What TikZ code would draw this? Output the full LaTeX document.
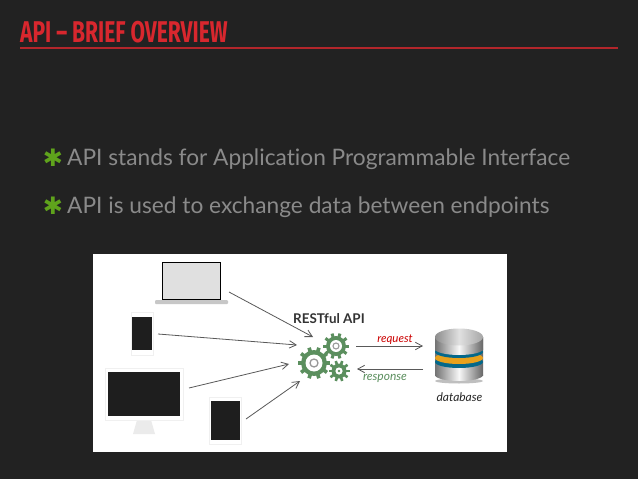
\documentclass[tikz,border=0pt]{standalone}
\usepackage{fontspec}
\usepackage{xcolor}
\usepackage{tikz}
\usetikzlibrary{positioning, arrows.meta, calc}
\setmainfont[Ligatures=CommonOff]{Lato}
\newfontfamily\titlefont[FakeStretch=0.70]{Fira Sans}
\newfontfamily\symbfont{DejaVu Sans}
\definecolor{slidebg}{HTML}{222222}
\definecolor{titlered}{HTML}{D8272E}
\definecolor{rulered}{HTML}{B3262B}
\definecolor{bodygray}{HTML}{8A8A8A}
\definecolor{bulletgreen}{HTML}{5FA31C}
\definecolor{devblack}{HTML}{1E1E1E}
\definecolor{gearGreen}{HTML}{5B8F5E}

\begin{document}
\begin{tikzpicture}[
        x=1pt, y=-1pt,
        bullet/.style={anchor=center, text=bulletgreen, font=\symbfont\fontsize{24}{24}\selectfont, inner sep=0pt},
        bodytext/.style={anchor=base west, text=bodygray, font=\fontsize{22.7}{24}\selectfont, inner sep=0pt},
        bezel/.style={rectangle, fill=white, draw=black!6, line width=0.5pt, inner sep=0pt},
        screen/.style={rectangle, fill=devblack, inner sep=0pt},
        arrow/.style={-{Straight Barb[length=2.4mm,width=2.6mm]}, draw=black!65, line width=0.8pt},
        gearbody/.style={fill=gearGreen},
        gearTooth/.style={draw=gearGreen, line width=#1},
        hand/.style={inner sep=0pt, font=\itshape\fontsize{11.5}{12}\selectfont}
    ]

    % slide and picture panel
    \fill[slidebg] (0,0) rectangle (638,479);
    \useasboundingbox (0,0) rectangle (638,479);
    \node[anchor=base west, inner sep=0pt, text=titlered, font=\titlefont\fontsize{30}{30}\selectfont\bfseries] (title) at (20,42) {API – BRIEF OVERVIEW};
    \coordinate (ruleL) at (20,48);
    \coordinate (ruleR) at (618,48);
    \draw[rulered, line width=1.6pt] (ruleL) -- (ruleR);

    \node[bullet] (bulletA) at (53,158) {✱};
    \node[bodytext] (lineA) at (67,165) {API stands for Application Programmable Interface};
    \node[bullet] (bulletB) at (53,206) {✱};
    \node[bodytext] (lineB) at (67,213) {API is used to exchange data between endpoints};

    \fill[white] (93,254) rectangle (507,452);

    % devices
    \fill[black!22, rounded corners=1pt] (155,300) rectangle (228,304);
    \node[rectangle, fill=black!12, draw=black, line width=1pt, minimum width=58pt, minimum height=37pt, inner sep=0pt] (laptop) at (191.5,281) {};

    \node[bezel, minimum width=22pt, minimum height=43pt] (phone) at (142,333.5) {};
    \node[screen, minimum width=19.5pt, minimum height=33pt] at (142,333.5) {};

    \fill[black!8] (137,420) -- (151,420) -- (155,434) -- (133,434) -- cycle;
    \node[bezel, minimum width=78pt, minimum height=52pt] (monitor) at (144,394) {};
    \node[screen, minimum width=71.5pt, minimum height=44pt] at (144,394) {};

    \node[bezel, minimum width=32pt, minimum height=47pt] (tablet) at (225,420.5) {};
    \node[screen, minimum width=29pt, minimum height=39pt] at (225.5,420.5) {};

    % gears
    \foreach \gname/\gx/\gy/\gr/\gw/\gin in {gearA/314/363/13/3.6/8.5, gearB/336/346/10/3/6, gearC/339/371/7.5/2.6/3.6} {
        \coordinate (\gname) at (\gx,\gy);
        \foreach \ang in {0,36,...,324}
            \draw[gearTooth=\gw pt] (\gname) -- ++(\ang:{\gr+3});
        \fill[gearbody] (\gname) circle[radius=\gr];
        \fill[white] (\gname) circle[radius=\gin];
    }
    \draw[black!40, line width=1.3pt] (gearA) circle[radius=4];
    \draw[black!40, line width=1.1pt] (gearB) circle[radius=3];
    \fill[gearGreen] (gearC) circle[radius=1.4];

    \node[inner sep=0pt, anchor=base west, text=black!80, font=\bfseries\fontsize{13.4}{13}\selectfont] (restful) at (293,323) {RESTful API};

    % arrows to the gears
    \coordinate (laptopOut) at (229,292);
    \coordinate (phoneOut) at (158,334);
    \coordinate (monitorOut) at (189,388);
    \coordinate (tabletOut) at (246,419);
    \coordinate (inA) at (313,337);
    \coordinate (inB) at (297,345);
    \coordinate (inC) at (289,364);
    \coordinate (inD) at (300,381);
    \draw[arrow] (laptopOut) -- (inA);
    \draw[arrow] (phoneOut) -- (inB);
    \draw[arrow] (monitorOut) -- (inC);
    \draw[arrow] (tabletOut) -- (inD);

    % database
    \fill[black!25] (459,381) ellipse[x radius=24, y radius=2.5];
    \shade[left color=black!55, right color=black!60, middle color=black!3] (435,337) rectangle (483,375);
    \shade[left color=black!55, right color=black!60, middle color=black!3] (459,375) ellipse[x radius=24, y radius=6];
    \foreach \by/\bc in {362/04688A, 358/E8A11C, 352/04688A} {
        \definecolor{bandcol}{HTML}{\bc}
        \fill[bandcol] (459,\by) ellipse[x radius=24, y radius=6];
    }
    \shade[left color=black!55, right color=black!60, middle color=black!3] (435,337) rectangle (483,349);
    \shade[left color=black!55, right color=black!60, middle color=black!3] (459,349) ellipse[x radius=24, y radius=6];
    \shade[left color=black!45, right color=black!35, middle color=black!12] (459,337) ellipse[x radius=24, y radius=8.5];
    \node[draw=none, inner sep=0pt, minimum width=48pt, minimum height=54pt] (database) at (459,355) {};

    % request and response
    \coordinate (reqL) at (356,346);
    \coordinate (reqR) at (423,346);
    \coordinate (resR) at (423,369);
    \coordinate (resL) at (357,369);
    \draw[arrow] (reqL) -- (reqR);
    \draw[arrow] (resR) -- (resL);
    \node[hand, text=red!80!black] (request) at (395,340) {request};
    \node[hand, text=gearGreen, font=\itshape\fontsize{12}{12}\selectfont] (response) at (385,378) {response};
    \node[hand, text=black!85, font=\itshape\fontsize{12}{12}\selectfont] (dbname) at (459.5,397) {database};

\end{tikzpicture}
\end{document}
